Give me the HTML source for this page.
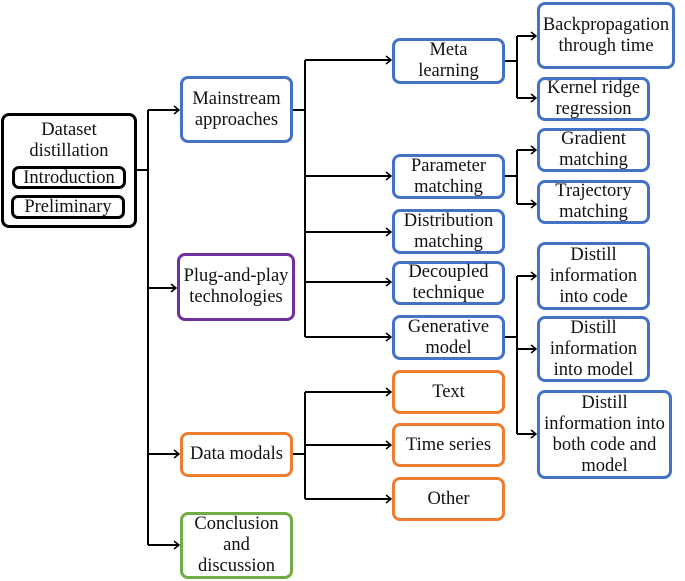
<!DOCTYPE html>
<html><head><meta charset="utf-8"><style>
body{margin:0;width:685px;height:581px;background:#fff;position:relative;overflow:hidden;font-family:"Times New Roman","Liberation Serif","DejaVu Serif",serif;color:#111}
.b{position:absolute;box-sizing:border-box;border:3px solid #4472C4;border-radius:8px;display:flex;align-items:center;justify-content:center;text-align:center;font-family:"Times New Roman","Liberation Serif","DejaVu Serif",serif;font-size:18.5px;line-height:21px;background:#fff;white-space:nowrap}
.k{border-color:#000}.p{border-color:#7030A0}.o{border-color:#ED7D31}.g{border-color:#70AD47}
svg{position:absolute;left:0;top:0}
</style></head><body>
<svg width="685" height="581" fill="none" stroke="#000" stroke-width="2">
<path d="M137 170H148M148 110V545M148 110H178M148 288H175M148 454H178M148 545H178"/>
<path d="M293 110H305M305 60V337M305 60H390M305 176H390M305 232H390M305 282H390M305 337H390"/>
<path d="M293 454H305M305 392V499M305 392H390M305 445H390M305 499H390"/>
<path d="M505 61H517M517 36V98M517 36H535M517 98H535"/>
<path d="M505 176H517M517 150V204M517 150H535M517 204H535"/>
<path d="M505 337H517M517 276V434M517 276H535M517 349H535M517 434H535"/>
<g stroke-width="1.5">
<path d="M174 106L179 110L174 114M171 284L176 288L171 292M174 450L179 454L174 458M174 541L179 545L174 549"/>
<path d="M386 56L391 60L386 64M386 172L391 176L386 180M386 228L391 232L386 236M386 278L391 282L386 286M386 333L391 337L386 341M386 388L391 392L386 396M386 441L391 445L386 449M386 495L391 499L386 503"/>
<path d="M531 32L536 36L531 40M531 94L536 98L531 102M531 146L536 150L531 154M531 200L536 204L531 208M531 272L536 276L531 280M531 345L536 349L531 353M531 430L536 434L531 438"/>
</g>
</svg>
<div class="b k" style="left:1px;top:113px;width:136px;height:115px;align-items:flex-start;padding-top:4px">Dataset<br>distillation</div>
<div class="b k" style="left:12px;top:166px;width:114px;height:23px;border-radius:7px;line-height:18px">Introduction</div>
<div class="b k" style="left:11px;top:195px;width:114px;height:24px;border-radius:7px;line-height:18px">Preliminary</div>
<div class="b" style="left:180px;top:76px;width:113px;height:67px">Mainstream<br>approaches</div>
<div class="b p" style="left:177px;top:253px;width:118px;height:68px">Plug-and-play<br>technologies</div>
<div class="b o" style="left:180px;top:432px;width:113px;height:45px">Data modals</div>
<div class="b g" style="left:180px;top:512px;width:113px;height:67px">Conclusion<br>and<br>discussion</div>
<div class="b" style="left:392px;top:38px;width:113px;height:46px">Meta<br>learning</div>
<div class="b" style="left:392px;top:154px;width:113px;height:45px">Parameter<br>matching</div>
<div class="b" style="left:392px;top:209px;width:113px;height:45px">Distribution<br>matching</div>
<div class="b" style="left:392px;top:261px;width:113px;height:44px">Decoupled<br>technique</div>
<div class="b" style="left:392px;top:315px;width:113px;height:45px">Generative<br>model</div>
<div class="b o" style="left:392px;top:370px;width:113px;height:44px">Text</div>
<div class="b o" style="left:392px;top:423px;width:113px;height:44px">Time series</div>
<div class="b o" style="left:392px;top:477px;width:113px;height:44px">Other</div>
<div class="b" style="left:537px;top:2px;width:138px;height:67px">Backpropagation<br>through time</div>
<div class="b" style="left:537px;top:77px;width:113px;height:44px">Kernel ridge<br>regression</div>
<div class="b" style="left:537px;top:128px;width:113px;height:44px">Gradient<br>matching</div>
<div class="b" style="left:537px;top:180px;width:113px;height:44px">Trajectory<br>matching</div>
<div class="b" style="left:537px;top:242px;width:113px;height:68px">Distill<br>information<br>into code</div>
<div class="b" style="left:537px;top:316px;width:113px;height:66px">Distill<br>information<br>into model</div>
<div class="b" style="left:537px;top:390px;width:135px;height:89px">Distill<br>information into<br>both code and<br>model</div>
</body></html>
